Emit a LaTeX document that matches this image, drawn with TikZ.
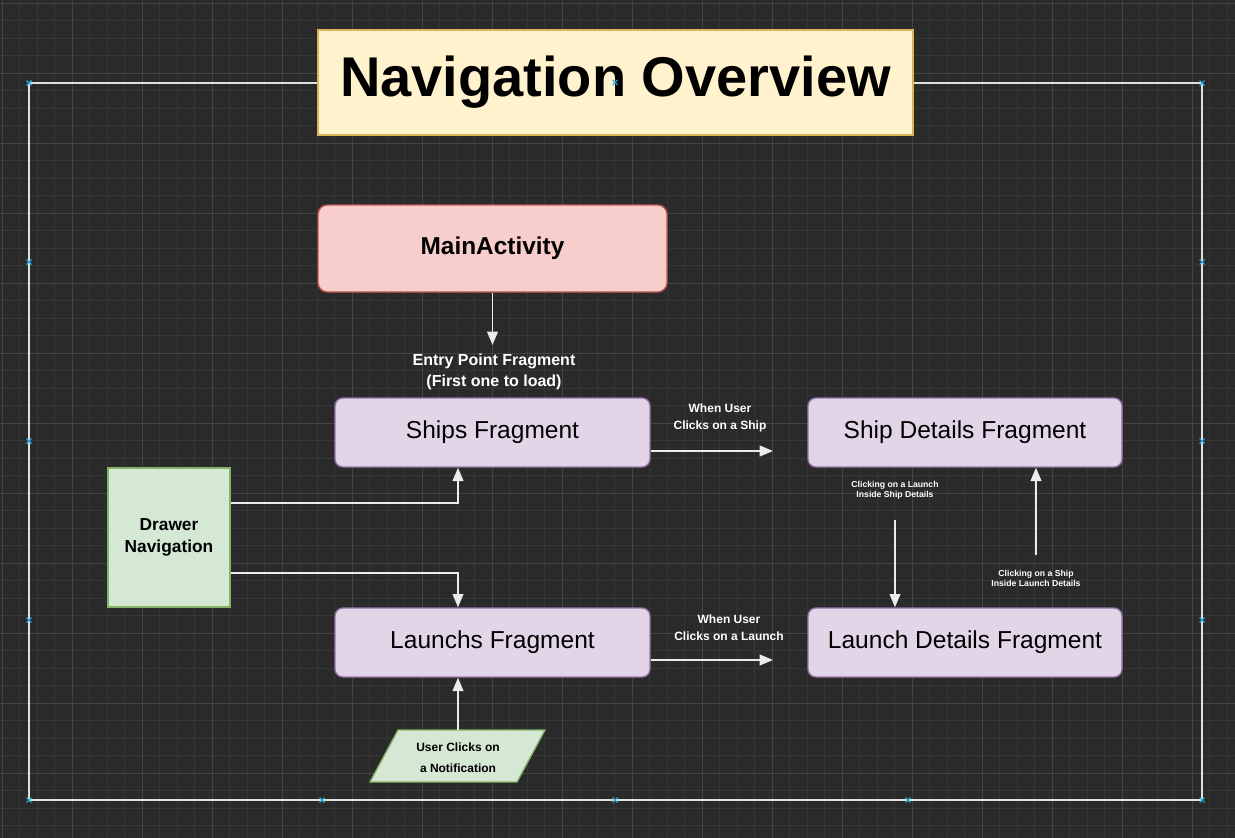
\documentclass[tikz,border=0pt]{standalone}
\usepackage{fontspec}
\setmainfont{Liberation Sans}
\usetikzlibrary{arrows.meta}
\definecolor{bg}{HTML}{2A2A2A}
\definecolor{gmin}{HTML}{363636}
\definecolor{gmaj}{HTML}{444444}
\definecolor{purf}{HTML}{E1D5E7}\definecolor{purs}{HTML}{9673A6}
\definecolor{redf}{HTML}{F8CECC}\definecolor{reds}{HTML}{B85450}
\definecolor{grnf}{HTML}{D5E8D4}\definecolor{grns}{HTML}{82B366}
\definecolor{yelf}{HTML}{FFF2CC}\definecolor{yels}{HTML}{D6B656}
\definecolor{mark}{HTML}{29A8E0}
\tikzset{
 frag/.style={draw=purs,fill=purf,rounded corners=6pt,line width=1pt,font=\fontsize{18.4}{22}\selectfont},
 conn/.style={draw=white!92!black,line width=1.4pt,-{Triangle[width=8pt,length=10pt]}},
 lbl/.style={text=white,font=\bfseries\fontsize{9}{13}\selectfont,align=center},
 tiny/.style={text=white,font=\bfseries\fontsize{6.5}{7.5}\selectfont,align=center},
 mk/.style={draw=mark,line width=0.8pt}
}
\begin{document}
\begin{tikzpicture}[x=0.75pt,y=-0.75pt]
\fill[bg] (0,0) rectangle (1235,838);
\useasboundingbox (0,0) rectangle (1235,838);
\foreach \i in {0,...,71}{\draw[gmin,line width=0.6pt] ({2+\i*17.5},0)--({2+\i*17.5},838);}
\foreach \i in {0,...,48}{\draw[gmin,line width=0.6pt] (0,{3+\i*17.5})--(1235,{3+\i*17.5});}
\foreach \i in {0,...,17}{\draw[gmaj,line width=0.6pt] ({2+\i*70},0)--({2+\i*70},838);}
\foreach \i in {0,...,12}{\draw[gmaj,line width=0.6pt] (0,{3+\i*70})--(1235,{3+\i*70});}
\draw[white!88!black,line width=1.3pt] (29,83) rectangle (1202,800);
\foreach \x in {29,322,615,908,1202}{\foreach \y in {83,800}{\draw[mk] (\x-2.5,\y-2.5)--(\x+2.5,\y+2.5) (\x-2.5,\y+2.5)--(\x+2.5,\y-2.5);}}
\foreach \x in {29,1202}{\foreach \y in {262,441,620}{\draw[mk] (\x-2.5,\y-2.5)--(\x+2.5,\y+2.5) (\x-2.5,\y+2.5)--(\x+2.5,\y-2.5);}}
\node (title) [draw=yels,fill=yelf,line width=1pt,minimum width=595*0.75pt,minimum height=105*0.75pt,font=\bfseries\fontsize{42}{46}\selectfont] at (615.5,82.5) {Navigation Overview};
\draw[mk] (612.5,80)--(617.5,85) (612.5,85)--(617.5,80);
\node (main) [draw=reds,fill=redf,rounded corners=7pt,line width=1pt,minimum width=349*0.75pt,minimum height=87*0.75pt,font=\bfseries\fontsize{18.3}{22}\selectfont] at (492.5,248.5) {MainActivity};
\node (ships) [frag,minimum width=315*0.75pt,minimum height=69*0.75pt] at (492.5,432.5) {Ships Fragment};
\node (shipd) [frag,minimum width=314*0.75pt,minimum height=69*0.75pt] at (965,432.5) {Ship Details Fragment};
\node (launch) [frag,minimum width=315*0.75pt,minimum height=69*0.75pt] at (492.5,642.5) {Launchs Fragment};
\node (launchd) [frag,minimum width=314*0.75pt,minimum height=69*0.75pt] at (965,642.5) {Launch Details Fragment};
\node (drawer) [draw=grns,fill=grnf,line width=1pt,minimum width=122*0.75pt,minimum height=139*0.75pt,align=center,font=\bfseries\fontsize{13}{16.5}\selectfont] at (169,537.5) {Drawer\\Navigation};
\draw[draw=grns,fill=grnf,line width=1pt] (370,782)--(398,730)--(545,730)--(517,782)--cycle;
\node (notif) [align=center,font=\bfseries\fontsize{9}{16}\selectfont] at (458,758) {User Clicks on\\a Notification};
\coordinate (n1) at (458,730);
\coordinate (e1) at (492,345);
\coordinate (e2) at (773,451);
\coordinate (e3) at (773,660);
\coordinate (s1) at (895,520);
\coordinate (s2) at (1036,555);
\draw[conn] (main.south) -- (main.south|-e1);
\node[lbl,font=\bfseries\fontsize{12}{16}\selectfont] at (494,372) {Entry Point Fragment\\(First one to load)};
\draw[conn] (ships.east|-e2) -- (e2);
\node[lbl] at (720,418) {When User\\Clicks on a Ship};
\draw[conn] (launch.east|-e3) -- (e3);
\node[lbl] at (729,628) {When User\\Clicks on a Launch};
\draw[conn] (drawer.east|-0,503) -- (458,503) -- (ships.south-|458,0);
\draw[conn] (drawer.east|-0,573) -- (458,573) -- (launch.north-|458,0);
\draw[conn] (n1) -- (launch.south-|458,0);
\draw[conn] (s1) -- (launchd.north-|895,0);
\node[tiny] at (895,490) {Clicking on a Launch\\Inside Ship Details};
\draw[conn] (s2) -- (shipd.south-|1036,0);
\node[tiny] at (1036,578) {Clicking on a Ship\\Inside Launch Details};
\end{tikzpicture}
\end{document}
